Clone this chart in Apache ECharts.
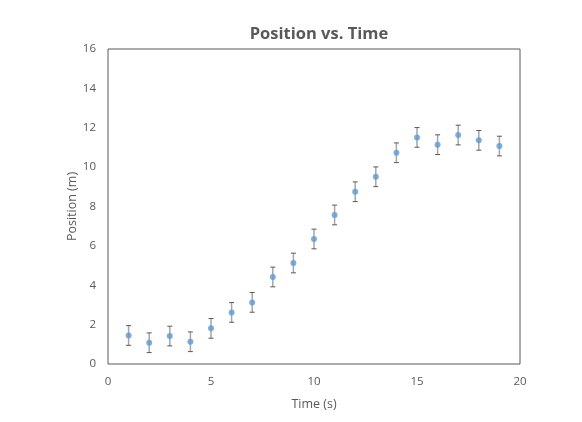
<!DOCTYPE html>
<html>
<head>
<meta charset="utf-8">
<script src="https://cdn.jsdelivr.net/npm/echarts@6/dist/echarts.min.js"></script>
<style>
	html, body {margin: 0; padding: 0; background: #fff;}
	#container {width: 582px; height: 422px;}
</style>
</head>
<body>
<div id="container"></div>
<script>
const Time = [1, 2, 3, 4, 5, 6, 7, 8, 9, 10, 11, 12, 13, 14, 15, 16, 17, 18, 19];
const Position = [1.45, 1.08, 1.42, 1.13, 1.81, 2.62, 3.13, 4.42, 5.13, 6.35, 7.57, 8.75, 9.51, 10.73, 11.51, 11.14, 11.63, 11.36, 11.07];
const ErrorSize = [0.5, 0.5, 0.5, 0.5, 0.5, 0.5, 0.5, 0.5, 0.5, 0.5, 0.5, 0.5, 0.5, 0.5, 0.5, 0.5, 0.5, 0.5, 0.5];

const Points = [];
const Bars = [];
for (const Key in Time) {
	Points[Key] = [Time[Key], Position[Key]];
	Bars[Key] = [Time[Key], Position[Key] - ErrorSize[Key], Position[Key] + ErrorSize[Key]];
}

const font = '"Open Sans", "Liberation Sans", sans-serif';

function ErrorBar(params, api) {
	const low = api.coord([api.value(0), api.value(1)]);
	const high = api.coord([api.value(0), api.value(2)]);
	const w = 2.5;
	return {
		type: 'group', children: [{
			type: 'line', shape: {x1: low[0], y1: low[1], x2: high[0], y2: high[1]},
			style: {stroke: '#a6a6a6', lineWidth: 1.5}
		}, {
			type: 'line', shape: {x1: low[0] - w, y1: low[1], x2: low[0] + w, y2: low[1]},
			style: {stroke: '#595959', lineWidth: 1}
		}, {
			type: 'line', shape: {x1: high[0] - w, y1: high[1], x2: high[0] + w, y2: high[1]},
			style: {stroke: '#595959', lineWidth: 1}
		}]
	};
}

const option = {
	animation: false,
	title: {
		text: 'Position vs. Time', left: 314, top: 21, textAlign: 'center',
		textStyle: {color: '#595959', fontWeight: 'bold', fontSize: 16.5, fontFamily: font}
	},
	grid: {
		left: 108, right: 62, top: 49, bottom: 58, show: true,
		borderColor: '#595959', borderWidth: 1, backgroundColor: '#fff'
	},
	xAxis: {
		type: 'value', min: 0, max: 20, interval: 5,
		name: 'Time (s)', nameLocation: 'middle', nameGap: 34,
		nameTextStyle: {color: '#595959', fontSize: 12.5, fontFamily: font},
		axisLine: {show: false}, axisTick: {show: false}, splitLine: {show: false},
		axisLabel: {color: '#595959', fontSize: 11.5, fontFamily: font, margin: 12}
	},
	yAxis: {
		type: 'value', min: 0, max: 16, interval: 2,
		name: 'Position (m)', nameLocation: 'middle', nameGap: 29, nameMoveOverlap: false,
		nameTextStyle: {color: '#595959', fontSize: 12.5, fontFamily: font},
		axisLine: {show: false}, axisTick: {show: false}, splitLine: {show: false},
		axisLabel: {color: '#595959', fontSize: 11.5, fontFamily: font, margin: 12}
	},
	series: [{
		type: 'custom', renderItem: ErrorBar, data: Bars, z: 2,
		encode: {x: 0, y: [1, 2]}
	}, {
		type: 'scatter', data: Points, symbol: 'circle', symbolSize: 6, z: 3,
		itemStyle: {color: '#5b9bd5'}
	}]
};
echarts.init(document.getElementById('container')).setOption(option);
</script>
</body>
</html>
